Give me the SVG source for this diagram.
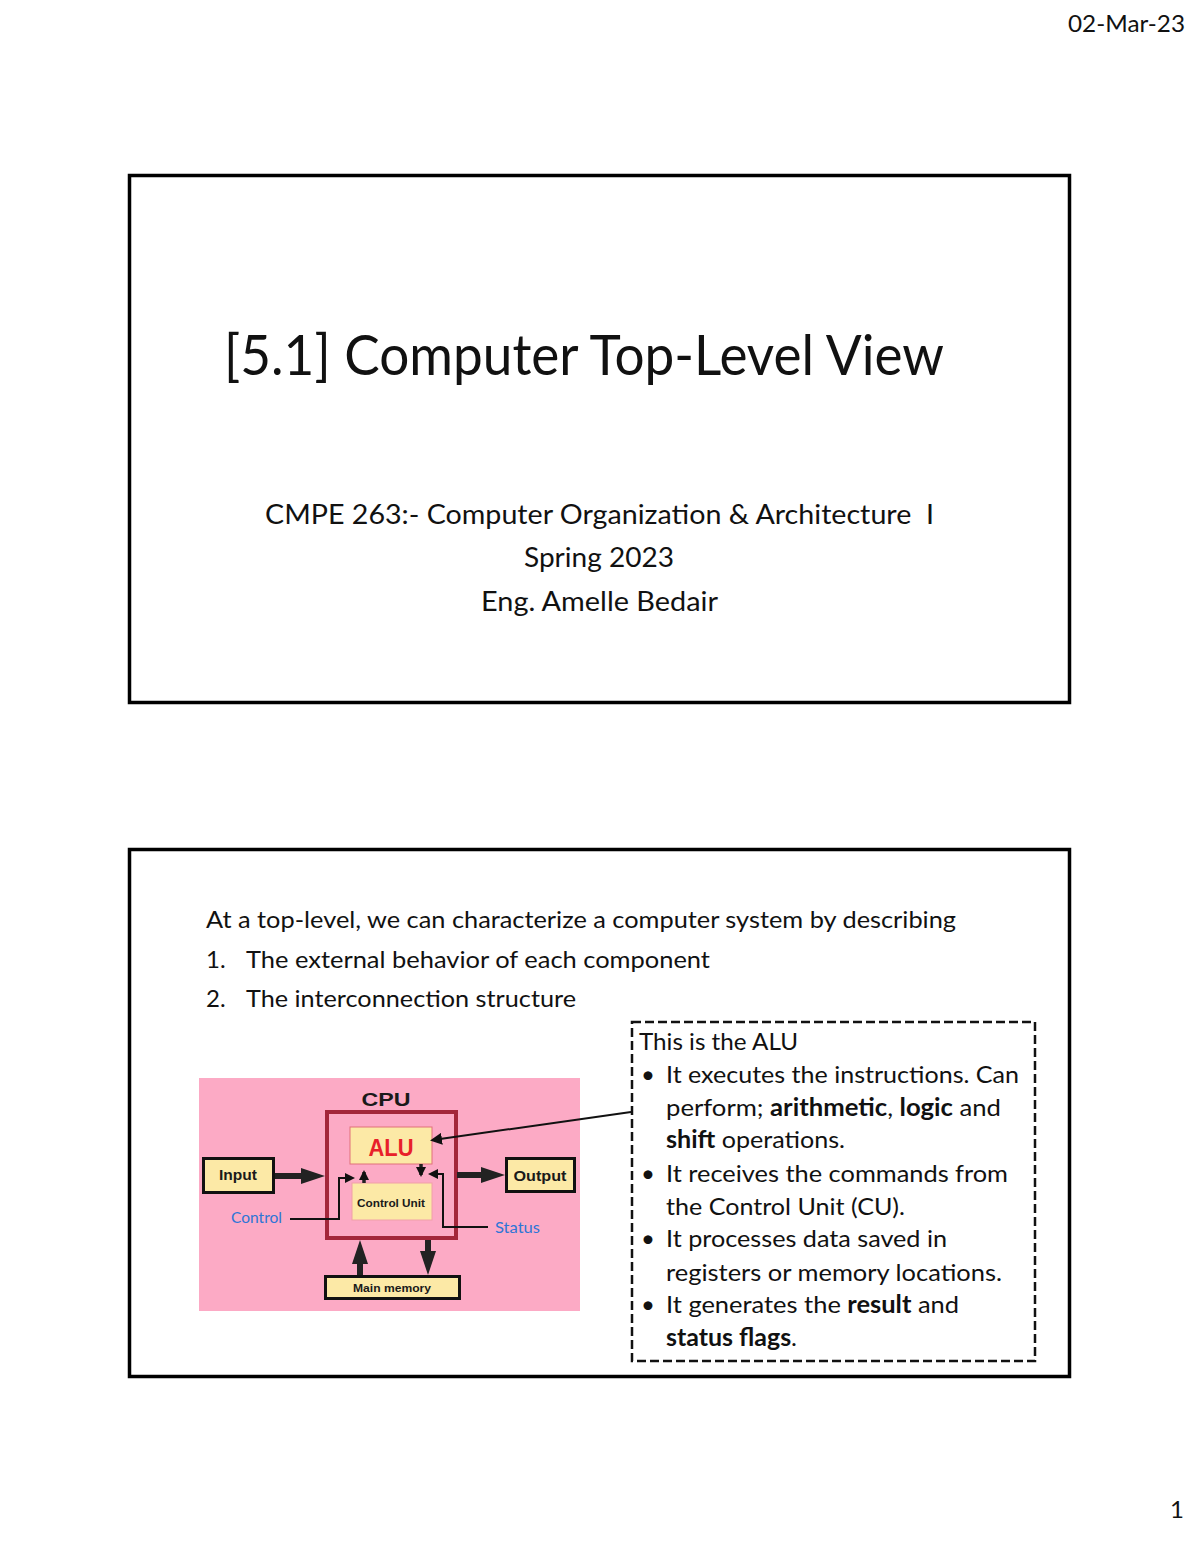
<svg xmlns="http://www.w3.org/2000/svg" width="1200" height="1553" viewBox="0 0 1200 1553">
<style>
.t{font-family:Lato,"Open Sans","Noto Sans",sans-serif;fill:#111}
.frame{fill:none;stroke:#000;stroke-width:3.5}
.d{font-family:"Liberation Sans",Arial,sans-serif;font-weight:bold;fill:#1a1a1a}
.box{fill:#FCE9A6;stroke:#111;stroke-width:3}
.blue{font-family:Lato,"Open Sans",sans-serif;fill:#2E75D6;font-size:15px}
.b{font-weight:bold}
.thick{stroke:#222;stroke-width:6;fill:none}
.thin{stroke:#111;stroke-width:2;fill:none}
</style>
<defs>
<marker id="big" markerUnits="userSpaceOnUse" markerWidth="24" markerHeight="16" refX="10" refY="8" orient="auto">
<path d="M0,0 L24,8 L0,16 z" fill="#222"/>
</marker>
<marker id="sm" markerUnits="userSpaceOnUse" markerWidth="10" markerHeight="10" refX="8" refY="5" orient="auto">
<path d="M0,0 L10,5 L0,10 z" fill="#111"/>
</marker>
<marker id="sm2" markerUnits="userSpaceOnUse" markerWidth="12" markerHeight="12" refX="9" refY="6" orient="auto">
<path d="M0,0 L12,6 L0,12 z" fill="#111"/>
</marker>
</defs>
<rect width="1200" height="1553" fill="#fff"/>
<text class="t" x="1185" y="32" font-size="24" text-anchor="end" textLength="117" lengthAdjust="spacingAndGlyphs">02-Mar-23</text>
<text class="t" x="1184" y="1518" font-size="24" text-anchor="end">1</text>

<g id="slide1">
<rect class="frame" x="129.5" y="175.5" width="940" height="527"/>
<text class="t" x="224" y="375" font-size="57" textLength="720" lengthAdjust="spacingAndGlyphs">[5.1] Computer Top-Level View</text>
<text class="t" x="265" y="524" font-size="27" textLength="669" lengthAdjust="spacingAndGlyphs" xml:space="preserve">CMPE 263:- Computer Organization &amp; Architecture  I</text>
<text class="t" x="524" y="567" font-size="27" textLength="150" lengthAdjust="spacingAndGlyphs">Spring 2023</text>
<text class="t" x="481" y="611" font-size="27" textLength="237" lengthAdjust="spacingAndGlyphs">Eng. Amelle Bedair</text>
</g>

<g id="slide2">
<rect class="frame" x="129.5" y="849.5" width="940" height="527"/>
<text class="t" x="206" y="928" font-size="24" textLength="750" lengthAdjust="spacingAndGlyphs">At a top-level, we can characterize a computer system by describing</text>
<text class="t" x="206" y="968" font-size="24">1.</text>
<text class="t" x="246" y="968" font-size="24" textLength="464" lengthAdjust="spacingAndGlyphs">The external behavior of each component</text>
<text class="t" x="206" y="1007" font-size="24">2.</text>
<text class="t" x="246" y="1007" font-size="24" textLength="330" lengthAdjust="spacingAndGlyphs">The interconnection structure</text>
</g>

<g id="diagram-bg">
<rect x="199" y="1078" width="381" height="233" fill="#FCAAC5"/>
</g>

<g id="cpu">
<rect x="327" y="1112" width="129" height="126" fill="none" stroke="#A3263A" stroke-width="4"/>
<text class="d" x="386" y="1106" font-size="19" text-anchor="middle" textLength="49" lengthAdjust="spacingAndGlyphs">CPU</text>
</g>
<g id="alu">
<rect x="350" y="1127" width="82" height="37" fill="#FCE9A6" stroke="#E0707A" stroke-width="1"/>
<text class="d" x="391" y="1156" font-size="23" text-anchor="middle" style="fill:#E8202A" textLength="45" lengthAdjust="spacingAndGlyphs">ALU</text>
</g>
<g id="control-unit">
<rect x="352" y="1183" width="80" height="37" fill="#FCE9A6" stroke="#F0A0A8" stroke-width="1"/>
<text class="d" x="391" y="1207" font-size="11" text-anchor="middle" textLength="68" lengthAdjust="spacingAndGlyphs">Control Unit</text>
</g>
<g id="input">
<rect class="box" x="203.5" y="1158.5" width="70" height="34"/>
<text class="d" x="238" y="1180" font-size="15" text-anchor="middle" textLength="38" lengthAdjust="spacingAndGlyphs">Input</text>
</g>
<g id="output">
<rect class="box" x="506.5" y="1158.5" width="68" height="33"/>
<text class="d" x="540" y="1181" font-size="15" text-anchor="middle" textLength="53" lengthAdjust="spacingAndGlyphs">Output</text>
</g>
<g id="main-memory">
<rect class="box" x="325.5" y="1276.5" width="134" height="22"/>
<text class="d" x="392" y="1292" font-size="11" text-anchor="middle" textLength="78" lengthAdjust="spacingAndGlyphs">Main memory</text>
</g>
<g id="labels">
<text class="blue" x="231" y="1223" textLength="51" lengthAdjust="spacingAndGlyphs">Control</text>
<text class="blue" x="495" y="1233" textLength="45" lengthAdjust="spacingAndGlyphs">Status</text>
</g>

<g id="alu-note">
<rect x="632" y="1022" width="403" height="339" fill="none" stroke="#111" stroke-width="2.5" stroke-dasharray="9,4"/>
<text class="t" x="639" y="1050" font-size="24" textLength="159" lengthAdjust="spacingAndGlyphs">This is the ALU</text>
<text class="t" x="641" y="1083" font-size="24">•</text>
<text class="t" x="666" y="1083" font-size="24" textLength="353" lengthAdjust="spacingAndGlyphs">It executes the instructions. Can</text>
<text class="t" x="666" y="1116" font-size="24" textLength="335" lengthAdjust="spacingAndGlyphs">perform; <tspan class="b">arithmetic</tspan>, <tspan class="b">logic</tspan> and</text>
<text class="t" x="666" y="1148" font-size="24" textLength="179" lengthAdjust="spacingAndGlyphs"><tspan class="b">shift</tspan> operations.</text>
<text class="t" x="641" y="1182" font-size="24">•</text>
<text class="t" x="666" y="1182" font-size="24" textLength="342" lengthAdjust="spacingAndGlyphs">It receives the commands from</text>
<text class="t" x="666" y="1215" font-size="24" textLength="239" lengthAdjust="spacingAndGlyphs">the Control Unit (CU).</text>
<text class="t" x="641" y="1247" font-size="24">•</text>
<text class="t" x="666" y="1247" font-size="24" textLength="281" lengthAdjust="spacingAndGlyphs">It processes data saved in</text>
<text class="t" x="666" y="1281" font-size="24" textLength="336" lengthAdjust="spacingAndGlyphs">registers or memory locations.</text>
<text class="t" x="641" y="1313" font-size="24">•</text>
<text class="t" x="666" y="1313" font-size="24" textLength="293" lengthAdjust="spacingAndGlyphs">It generates the <tspan class="b">result</tspan> and</text>
<text class="t" x="666" y="1346" font-size="24" textLength="131" lengthAdjust="spacingAndGlyphs"><tspan class="b">status flags</tspan>.</text>
</g>

<g id="connectors">
<line class="thick" x1="275" y1="1176" x2="311" y2="1176" marker-end="url(#big)"/>
<line class="thick" x1="457" y1="1175" x2="491" y2="1175" marker-end="url(#big)"/>
<line class="thick" x1="360" y1="1275" x2="360" y2="1254" marker-end="url(#big)"/>
<line class="thick" x1="428" y1="1240" x2="428" y2="1261" marker-end="url(#big)"/>
<line stroke="#222" stroke-width="3.5" x1="364" y1="1183" x2="364" y2="1172" marker-end="url(#sm)"/>
<line stroke="#222" stroke-width="3.5" x1="421" y1="1164" x2="421" y2="1175" marker-end="url(#sm)"/>
<polyline class="thin" points="290,1219 339,1219 339,1178 353,1178" marker-end="url(#sm)"/>
<polyline class="thin" points="488,1227 443,1227 443,1174 430,1174" marker-end="url(#sm)"/>
<line class="thin" x1="631" y1="1112" x2="433" y2="1140" marker-end="url(#sm2)"/>
</g>
</svg>
